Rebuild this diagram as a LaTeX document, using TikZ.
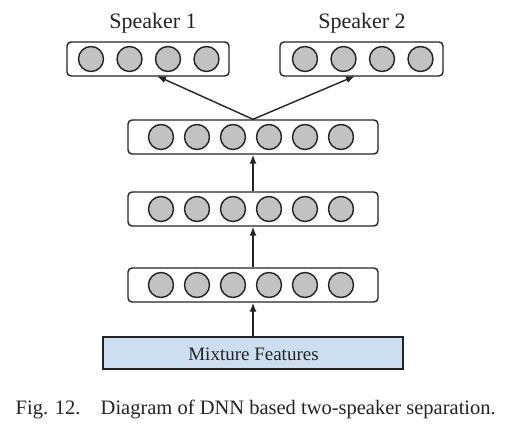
\documentclass[tikz,border=0pt]{standalone}
\usepackage{fontspec}
\setmainfont{Liberation Serif}
\usetikzlibrary{arrows.meta}
\definecolor{mixblue}{RGB}{205,222,240}
\definecolor{unitgray}{RGB}{194,194,194}
\definecolor{inkgray}{RGB}{35,35,35}

\begin{document}
\begin{tikzpicture}[x=1pt, y=-1pt, line width=1.4pt, draw=inkgray, text=inkgray,
    layer/.style = {draw, rounded corners=4pt, minimum height=34pt, inner sep=0pt},
    unit/.style = {draw, circle, fill=unitgray, minimum size=25pt, inner sep=0pt},
    feed/.style = {-{Latex[length=9pt, width=7pt]}}]
    \useasboundingbox (0,0) rectangle (513,427);
    \node[layer, minimum width=162pt] (S1) at (148,59) {};
    \node[layer, minimum width=163pt] (S2) at (361.5,59) {};
    \node[layer, minimum width=250pt] (H1) at (253,137) {};
    \node[layer, minimum width=250pt] (H2) at (253,209) {};
    \node[layer, minimum width=250pt] (H3) at (253,285) {};
    \node[draw, fill=mixblue, minimum width=300pt, minimum height=32pt, inner sep=0pt] (mix) at (253,353) {};
    \foreach \x [count=\i] in {91,129.5,168,206.5} {
        \node[unit] (S1u\i) at (\x,59) {};
    }
    \foreach \x [count=\i] in {305,343.5,382,420.5} {
        \node[unit] (S2u\i) at (\x,59) {};
    }
    \foreach \y/\n in {137/H1, 209/H2, 285/H3} {
        \foreach \x [count=\i] in {161,197,233,269,305,341} {
            \node[unit] (\n u\i) at (\x,\y) {};
        }
    }
    \node at (253.5,360) [anchor = base] (mixtext) {\fontsize{19}{23}\selectfont Mixture Features};
    \node at (153,29) [anchor = base] (S1text) {\fontsize{22}{26}\selectfont Speaker 1};
    \node at (362,29) [anchor = base] (S2text) {\fontsize{22}{26}\selectfont Speaker 2};
    \node at (15,414) [anchor = base west, inner sep=0pt] (fig) {\fontsize{20.5}{24}\selectfont Fig. 12.};
    \node at (100,414) [anchor = base west, inner sep=0pt] (caption) {\fontsize{20.5}{24}\selectfont Diagram of DNN based two-speaker separation.};
    \coordinate (in1) at (157,76);
    \coordinate (in2) at (355,76);
    \draw[feed] (mix.north) -- (H3.south);
    \draw[feed] (H3.north) -- (H2.south);
    \draw[feed] (H2.north) -- (H1.south);
    \draw[feed] (H1.north) -- (in1);
    \draw[feed] (H1.north) -- (in2);
\end{tikzpicture}
\end{document}
